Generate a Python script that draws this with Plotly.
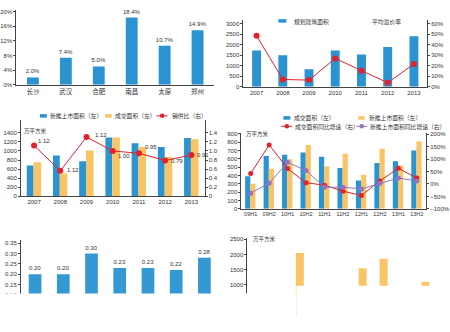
import plotly.graph_objects as go

W, H = 450, 332
def X(px): return px / W
def Y(py): return 1 - py / H

BLUE = "#2b93d1"
BLUE2 = "#3498d3"
ORANGE = "#f9c466"
RED = "#e5202a"
PURPLE = "#9473c0"
TXT = "#333333"
AX = "#444444"
FONT = "Liberation Sans, Arial, Noto Sans CJK SC, sans-serif"
CJK = "Noto Sans CJK SC, sans-serif"

# ---------------- data ----------------
# Panel 1: city rates
cities = ["长沙", "武汉", "合肥", "南昌", "太原", "郑州"]
city_rates = [2.0, 7.4, 5.0, 18.4, 10.7, 14.9]

# Panel 2: planned building area and average premium rate
years = ["2007", "2008", "2009", "2010", "2011", "2012", "2013"]
planned_area = [1720, 1500, 830, 1720, 1530, 1890, 2400]
premium_rate = [48.5, 6.9, 6.3, 26.9, 15.3, 3.8, 21.6]

# Panel 3: new supply / transactions / sales-supply ratio
new_supply = [680, 900, 770, 1300, 1170, 1090, 1290]
deal_area = [750, 500, 1010, 1300, 1090, 870, 1260]
sales_ratio = [1.12, 0.56, 1.31, 1.00, 0.95, 0.79, 0.91]
sales_ratio_labels = ["1.12", "1.12", "1.12", "1.00", "0.95", "0.79", "0.91"]

# Panel 4: half-year data
halves = ["09H1", "09H2", "10H1", "10H2", "11H1", "11H2", "12H1", "12H2", "13H1", "13H2"]
deal_half = [390, 635, 650, 675, 625, 490, 340, 550, 570, 700]
supply_half = [300, 480, 595, 765, 510, 660, 410, 720, 520, 810]
deal_yoy = [42, 157, 62, 5, -5, -29, -46, 12, 63, 24]
supply_yoy = [-37, 3, 87, 54, -13, -13, -20, 3, 24, 12]

# Panel 5: ratio bars
ratio_years = ["2007", "2008", "2009", "2010", "2011", "2012", "2013"]
ratio_vals = [0.20, 0.20, 0.30, 0.23, 0.23, 0.22, 0.28]
ratio_labels = ["0.20", "0.20", "0.30", "0.23", "0.23", "0.22", "0.28"]

# Panel 6: area bars (only the visible ones are known)
p6_cats = ["2005", "2006", "2007", "2008", "2009", "2010", "2011", "2012", "2013"]
p6_vals = [None, None, 2050, None, None, 1550, 1860, None, 1100]

fig = go.Figure()

# Panel 1
fig.add_trace(go.Bar(x=cities, y=city_rates, xaxis="x", yaxis="y",
                     marker=dict(color=BLUE, line=dict(width=0)),
                     width=0.36, offset=-0.18,
                     text=[f"{v:.1f}%" for v in city_rates], textposition="outside",
                     constraintext="none",
                     textfont=dict(size=6, color=TXT, family=FONT), cliponaxis=False))

# Panel 2
fig.add_trace(go.Bar(x=years, y=planned_area, xaxis="x2", yaxis="y2",
                     marker=dict(color=BLUE, line=dict(width=0)), width=0.34, offset=-0.17))
fig.add_trace(go.Scatter(x=years, y=premium_rate, xaxis="x2", yaxis="y3", mode="lines+markers",
                         line=dict(color=RED, width=1), marker=dict(color=RED, size=6)))

# Panel 3
fig.add_trace(go.Bar(x=years, y=new_supply, xaxis="x3", yaxis="y4",
                     marker=dict(color=BLUE, line=dict(width=0)), width=0.26, offset=-0.28))
fig.add_trace(go.Bar(x=years, y=deal_area, xaxis="x3", yaxis="y4",
                     marker=dict(color=ORANGE, line=dict(width=0)), width=0.29, offset=-0.02))
fig.add_trace(go.Scatter(x=years, y=sales_ratio, xaxis="x3", yaxis="y5", mode="lines+markers",
                         line=dict(color=RED, width=1), marker=dict(color=RED, size=6),
                         cliponaxis=False))

# Panel 4
fig.add_trace(go.Bar(x=halves, y=deal_half, xaxis="x4", yaxis="y6",
                     marker=dict(color=BLUE, line=dict(width=0)), width=0.28, offset=-0.3))
fig.add_trace(go.Bar(x=halves, y=supply_half, xaxis="x4", yaxis="y6",
                     marker=dict(color=ORANGE, line=dict(width=0)), width=0.28, offset=-0.02))
fig.add_trace(go.Scatter(x=halves, y=deal_yoy, xaxis="x4", yaxis="y7", mode="lines+markers",
                         line=dict(color=RED, width=1), marker=dict(color=RED, size=5)))
fig.add_trace(go.Scatter(x=halves, y=supply_yoy, xaxis="x4", yaxis="y7", mode="lines+markers",
                         line=dict(color=PURPLE, width=1), marker=dict(color=PURPLE, size=5)))

# Panel 5
fig.add_trace(go.Bar(x=ratio_years, y=ratio_vals, xaxis="x5", yaxis="y8",
                     marker=dict(color=BLUE2, line=dict(width=0)), width=0.45, offset=-0.225,
                     text=ratio_labels, textposition="outside", constraintext="none",
                     textfont=dict(size=6, color=TXT, family=FONT), cliponaxis=False))

# Panel 6
fig.add_trace(go.Bar(x=p6_cats, y=p6_vals, xaxis="x6", yaxis="y9",
                     marker=dict(color=ORANGE, line=dict(width=0)), width=0.38, offset=-0.19))

tickfont = dict(size=6, color=TXT, family=FONT)

def xax(d0, d1, anchor, n, labels=True, size=6):
    return dict(domain=[X(d0), X(d1)], anchor=anchor, type="category", showline=True,
                range=[-0.5, n - 0.5],
                linecolor=AX, linewidth=1, ticks="", showgrid=False, zeroline=False,
                tickfont=dict(size=size, color=TXT, family=FONT), showticklabels=labels,
                tickangle=0, fixedrange=True)

def yax(py0, py1, rng, anchor, **kw):
    d = dict(domain=[Y(py0), Y(py1)], range=rng, anchor=anchor, showline=True,
             linecolor=AX, linewidth=1, ticks="outside", ticklen=2, tickcolor=AX,
             showgrid=False, zeroline=False, tickfont=tickfont, fixedrange=True)
    d.update(kw)
    return d

fig.update_layout(
    width=W, height=H, margin=dict(l=0, r=0, t=0, b=0),
    paper_bgcolor="white", plot_bgcolor="white",
    barmode="overlay", showlegend=False,
    font=dict(family=FONT, size=6, color=TXT),
    xaxis=xax(15.5, 213.5, "y", len(cities), size=6.5),
    yaxis=yax(84, 8, [0, 20.5], "x", tickvals=[0, 4, 8, 12, 16, 20],
              ticktext=["0%", "4%", "8%", "12%", "16%", "20%"]),
    xaxis2=xax(243, 427, "y2", len(years)),
    yaxis2=yax(86, 18, [0, 3187], "x2", dtick=500),
    yaxis3=yax(86, 18, [0, 63.75], "x2", overlaying="y2", side="right",
               tickvals=[0, 10, 20, 30, 40, 50, 60],
               ticktext=["0%", "10%", "20%", "30%", "40%", "50%", "60%"]),
    xaxis3=xax(20, 204, "y4", len(years)),
    yaxis4=yax(197, 120, [0, 1684], "x3", tickvals=[0, 200, 400, 600, 800, 1000, 1200, 1400]),
    yaxis5=yax(197, 120, [0, 1.684], "x3", overlaying="y4", side="right",
               tickvals=[0, 0.2, 0.4, 0.6, 0.8, 1.0, 1.2, 1.4],
               ticktext=["0", "0.2", "0.4", "0.6", "0.8", "1.0", "1.2", "1.4"]),
    xaxis4=xax(241, 426, "y6", len(halves), size=5.5),
    yaxis6=yax(210, 133, [0, 910], "x4", dtick=100),
    yaxis7=yax(210, 133, [-100, 205], "x4", overlaying="y6", side="right",
               tickvals=[-100, -50, 0, 50, 100, 150, 200],
               ticktext=["−100%", "−50%", "0%", "50%", "100%", "150%", "200%"]),
    xaxis5=xax(20, 218, "y8", len(ratio_years), labels=False),
    yaxis8=yax(318, 242, [0, 0.3644], "x5", tickvals=[0, 0.05, 0.10, 0.15, 0.20, 0.25, 0.30, 0.35],
               tickformat=".2f"),
    xaxis6=xax(247, 436, "y9", len(p6_cats), labels=False),
    yaxis9=yax(318, 240, [0, 2532], "x6", dtick=500),
)

shapes = []
annotations = []

# labels of the sales/supply ratio line, placed relative to each point (category index on x)
ratio_shifts = [(2, 5), (5, 1), (6, 2), (3, -5), (4, 6), (4, -1), (4, 0)]
for i, (yv, t, (dx, dy)) in enumerate(zip(sales_ratio, sales_ratio_labels, ratio_shifts)):
    annotations.append(dict(xref="x3", yref="y5", x=i, y=yv, text=t, showarrow=False,
                            xanchor="left", yanchor="middle", xshift=dx, yshift=dy,
                            font=dict(size=6, color=TXT, family=FONT)))

def legend_rect(x0, x1, yc, color):
    shapes.append(dict(type="rect", xref="paper", yref="paper", x0=X(x0), x1=X(x1),
                       y0=Y(yc + 1.8), y1=Y(yc - 1.8), fillcolor=color, line=dict(width=0)))

def legend_line(x0, x1, yc, color):
    shapes.append(dict(type="line", xref="paper", yref="paper", x0=X(x0), x1=X(x1),
                       y0=Y(yc), y1=Y(yc), line=dict(color=color, width=1)))
    xm = (x0 + x1) / 2
    shapes.append(dict(type="circle", xref="paper", yref="paper", x0=X(xm - 2.3), x1=X(xm + 2.3),
                       y0=Y(yc + 2.3), y1=Y(yc - 2.3), fillcolor=color, line=dict(width=0)))

def label(x, y, text, size=5.8):
    annotations.append(dict(xref="paper", yref="paper", x=X(x), y=Y(y), text=text, showarrow=False,
                            xanchor="left", yanchor="middle", font=dict(size=size, color=TXT, family=CJK)))

# Panel 2 legend
legend_rect(278, 286, 19.2, BLUE)
label(292, 19.5, "规划建筑面积")
label(370, 19.5, "平均溢价率")

# Panel 3 legend
legend_rect(39, 46, 115.6, BLUE)
label(47.5, 115.6, "新推上市面积（左）")
legend_rect(104.5, 111, 115.6, ORANGE)
label(112.5, 115.6, "成交面积（左）")
legend_line(156, 167, 115.6, RED)
label(169, 115.6, "销供比（右）")
label(21, 130.5, "万平方米", size=5.5)

# Panel 4 legend
legend_rect(283, 290, 117.7, BLUE)
label(292, 117.7, "成交面积（左）")
legend_rect(358, 364.5, 117.7, ORANGE)
label(366.5, 117.7, "新推上市面积（左）")
legend_line(281, 292, 126.2, RED)
label(292.5, 126.2, "成交面积同比增速（右）")
legend_line(356, 367, 126.2, PURPLE)
label(367.5, 126.2, "新推上市面积同比增速（右）")
label(244, 134.5, "万平方米", size=5.5)

# Panel 6 title
label(251, 240.5, "万平方米", size=5.5)

# bottom of page is cut off in the reference
shapes.append(dict(type="rect", xref="paper", yref="paper", x0=-0.01, x1=X(296), y0=-0.01, y1=Y(296),
                   fillcolor="white", line=dict(width=0), layer="above"))
shapes.append(dict(type="rect", xref="paper", yref="paper", x0=X(296), x1=1.01, y0=-0.01, y1=Y(288),
                   fillcolor="white", line=dict(width=0), layer="above"))

fig.update_layout(shapes=shapes, annotations=annotations)

fig.write_html("out.html")
